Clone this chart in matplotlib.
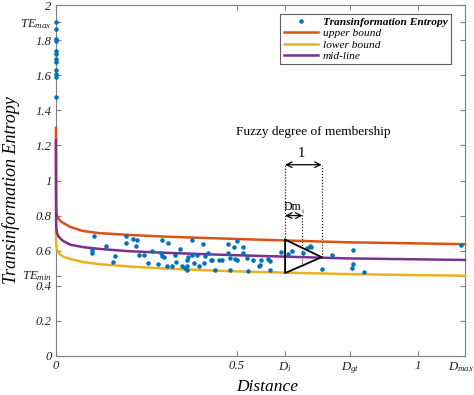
import matplotlib
matplotlib.use("Agg")
import matplotlib.pyplot as plt
import matplotlib.transforms as mtransforms

plt.rcParams.update({
    "font.family": "Liberation Serif",
    "mathtext.fontset": "custom",
    "mathtext.rm": "Liberation Serif:italic",
    "mathtext.it": "Liberation Serif:italic",
    "mathtext.bf": "Liberation Serif:italic:bold",
})

C_BLUE = "#0072BD"; C_ORANGE = "#D95319"; C_YELLOW = "#EDB120"; C_PURPLE = "#7E2F8E"
AXC = "#7f7f7f"

# ---- data ----
te_x0 = [0] * 12
te_y0 = [1.903, 1.866, 1.809, 1.796, 1.739, 1.72, 1.695, 1.677, 1.63, 1.606, 1.592, 1.476]
te_x = [0.105, 0.099, 0.099, 0.138, 0.163, 0.157, 0.193, 0.193, 0.212, 0.225,
        0.221, 0.23, 0.243, 0.255, 0.264, 0.283, 0.292, 0.289, 0.31, 0.298,
        0.307, 0.32, 0.329, 0.333, 0.343, 0.347, 0.363, 0.361, 0.375, 0.381,
        0.389, 0.396, 0.407, 0.409, 0.427, 0.439, 0.458, 0.476, 0.481, 0.492,
        0.494, 0.292, 0.365, 0.375, 0.411, 0.421, 0.43, 0.451, 0.356, 0.361,
        0.499, 0.517, 0.474, 0.481, 0.499, 0.517, 0.527, 0.545, 0.566, 0.564,
        0.562, 0.587, 0.591, 0.591, 0.53, 0.623, 0.64, 0.653, 0.683, 0.693,
        0.702, 0.704, 0.734, 0.763, 0.82, 0.82, 0.817, 0.851, 1.12]
te_y = [0.682, 0.602, 0.587, 0.629, 0.571, 0.535, 0.686, 0.644, 0.667, 0.663,
        0.629, 0.577, 0.577, 0.53, 0.596, 0.526, 0.663, 0.587, 0.644, 0.563,
        0.514, 0.514, 0.577, 0.533, 0.61, 0.51, 0.549, 0.51, 0.659, 0.53,
        0.577, 0.51, 0.64, 0.53, 0.549, 0.487, 0.545, 0.64, 0.487, 0.621,
        0.553, 0.571, 0.563, 0.577, 0.571, 0.587, 0.545, 0.545, 0.501, 0.491,
        0.653, 0.621, 0.587, 0.558, 0.545, 0.587, 0.558, 0.545, 0.549, 0.52,
        0.51, 0.553, 0.539, 0.491, 0.482, 0.591, 0.583, 0.596, 0.587, 0.615,
        0.629, 0.621, 0.497, 0.577, 0.606, 0.526, 0.501, 0.476, 0.634]

curve_x = [0, 0.0005, 0.001, 0.002, 0.003, 0.006, 0.012, 0.02, 0.04, 0.075,
           0.12, 0.2, 0.3, 0.48, 0.65, 0.8, 0.95, 1.13]
upper = [1.30, 0.86, 0.83, 0.81, 0.80, 0.785, 0.77, 0.758, 0.735, 0.712,
         0.70, 0.69, 0.68, 0.668, 0.657, 0.648, 0.643, 0.637]
mid = [1.23, 0.76, 0.73, 0.71, 0.70, 0.685, 0.67, 0.655, 0.634, 0.62,
       0.61, 0.597, 0.588, 0.575, 0.565, 0.556, 0.552, 0.547]
lower = [0.72, 0.64, 0.625, 0.615, 0.607, 0.594, 0.578, 0.566, 0.552, 0.535,
         0.523, 0.51, 0.498, 0.483, 0.474, 0.467, 0.462, 0.457]

D_i, D_gt, D_max = 0.633, 0.812, 1.13
TE_min, TE_max = 0.457, 1.903
apex = (0.734, 0.563)
tri_top, tri_bot = 0.663, 0.472
dm_x = 0.681

xticks = [0, 0.5, D_i, D_gt, 1, D_max]
xlabels = ["0", "0.5", "$D_i$", "$D_{gt}$", "1", "$D_{max}$"]
yticks = [0, 0.2, 0.4, TE_min, 0.6, 0.8, 1, 1.2, 1.4, 1.6, 1.8, TE_max, 2]
ylabels = ["0", "0.2", "0.4", "$TE_{min}$", "0.6", "0.8", "1", "1.2", "1.4",
           "1.6", "1.8", "$TE_{max}$", "2"]

fig = plt.figure(figsize=(4.74, 3.95), dpi=100)
ax = fig.add_axes([0.118, 0.099, 0.863, 0.888])

ax.plot(te_x0 + te_x, te_y0 + te_y, ".", color=C_BLUE, ms=4.5,
        label="Transinformation Entropy", zorder=4, clip_on=False)
ax.plot(curve_x, upper, color=C_ORANGE, lw=1.8, label="upper bound",
        zorder=3, clip_on=False)
ax.plot(curve_x, lower, color=C_YELLOW, lw=1.8, label="lower bound",
        zorder=3, clip_on=False)
ax.plot(curve_x, mid, color=C_PURPLE, lw=1.8, label="mid-line",
        zorder=3, clip_on=False)

# membership triangle
ax.plot([D_i, apex[0], D_i, D_i], [tri_top, apex[1], tri_bot, tri_top],
        color="black", lw=1.3, zorder=5)
ax.plot([D_i, D_i], [tri_top, 1.09], ":", color="black", lw=0.8)
ax.plot([apex[0], apex[0]], [apex[1], 1.09], ":", color="black", lw=0.8)
ax.plot([dm_x, dm_x], [0.515, 0.815], ":", color="black", lw=0.8)
ax.annotate("", xy=(apex[0], 1.09), xytext=(D_i, 1.09),
            arrowprops=dict(arrowstyle="<->", color="black", lw=0.9,
                            shrinkA=0, shrinkB=0))
ax.annotate("", xy=(dm_x, 0.80), xytext=(D_i, 0.80),
            arrowprops=dict(arrowstyle="<->", color="black", lw=0.9,
                            shrinkA=0, shrinkB=0))
ax.text(0.679, 1.115, "1", ha="center", va="bottom", fontsize=10.5)
ax.text(0.653, 0.815, "Dm", ha="center", va="bottom", fontsize=8.5)
ax.text(0.679, 0.81, "i", ha="left", va="bottom", fontsize=5)
ax.text(0.71, 1.275, "Fuzzy degree of membership", ha="center", va="center",
        fontsize=9.5)

ax.set_xlim(0, D_max)
ax.set_ylim(0, 2)
ax.set_xticks(xticks, xlabels)
ax.set_yticks(yticks, ylabels)
ax.tick_params(direction="in", length=3.5, colors=AXC, labelcolor="#222222",
               labelsize=9.2, right=True, top=True, pad=3)
for lab in ax.get_xticklabels() + ax.get_yticklabels():
    lab.set_fontstyle("italic")
# keep D_max label inside the canvas, separate TE_min from 0.4
last = ax.get_xticklabels()[-1]
last.set_transform(last.get_transform() +
                   mtransforms.ScaledTranslation(-4 / 100, 0, fig.dpi_scale_trans))
temin = ax.get_yticklabels()[3]
temin.set_transform(temin.get_transform() +
                    mtransforms.ScaledTranslation(0, 2 / 100, fig.dpi_scale_trans))
for s in ax.spines.values():
    s.set_color(AXC)
    s.set_zorder(2)
ax.set_xlabel("Distance", fontsize=12.5, style="italic")
ax.set_ylabel("Transinformation Entropy", fontsize=13, style="italic")
ax.xaxis.set_label_coords(0.516, -0.066)
ax.yaxis.set_label_coords(-0.088, 0.474)

leg = ax.legend(loc="upper right", bbox_to_anchor=(0.965, 0.975), fontsize=8.2,
                frameon=True, fancybox=False, edgecolor="#333333",
                handlelength=3.0, handletextpad=0.4, borderpad=0.3,
                labelspacing=0.1, borderaxespad=0)
leg.get_frame().set_linewidth(0.8)
for t in leg.get_texts():
    t.set_fontstyle("italic")
leg.get_texts()[0].set_fontweight("bold")

fig.savefig("out.png", dpi=100)
